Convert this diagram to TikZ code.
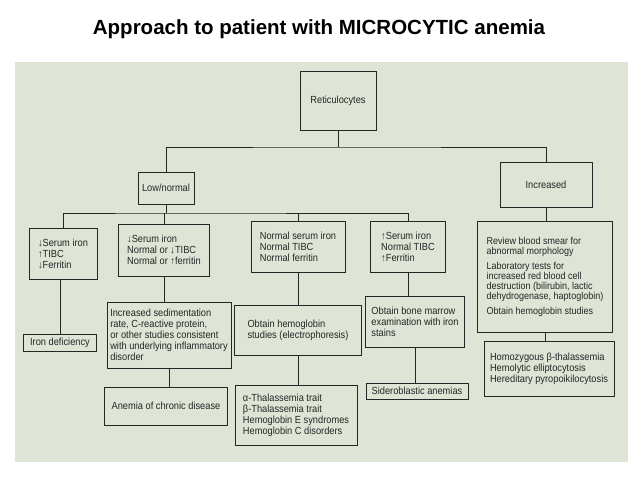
\documentclass[tikz,border=0pt]{standalone}
\usepackage{fontspec}
\setmainfont{Liberation Sans}
\newfontfamily\narrowf[FakeStretch=0.9]{Liberation Sans}
\begin{document}
\begin{tikzpicture}[x=1pt,y=-1pt,
  box/.style={draw=black!85,line width=0.9pt,align=left,inner sep=2pt,text=black!85,
    font=\narrowf\fontsize{10.3}{11}\selectfont},
  cbox/.style={box,align=center},
  link/.style={draw=black!85,line width=0.9pt}]
\useasboundingbox (0,0) rectangle (638,478);
\fill[white] (0,0) rectangle (638,478);
\fill[fill={rgb,255:red,222;green,228;blue,214}] (15,62) rectangle (628,462);
\node[font=\bfseries\fontsize{20.5}{24}\selectfont] (title) at (319,29) {Approach to patient with MICROCYTIC anemia};
% boxes
\node[cbox,minimum width=76,minimum height=59] (ret) at (338,101) {Reticulocytes};
\node[cbox,minimum width=56,minimum height=32] (low) at (166,188) {Low/normal};
\node[cbox,minimum width=92,minimum height=45] (inc) at (546,185) {Increased};
\node[box,minimum width=68,minimum height=51] (b1) at (63,254) {↓Serum iron\\↑TIBC\\↓Ferritin\hspace*{14pt}};
\node[box,minimum width=91,minimum height=52] (b2) at (164,250) {↓Serum iron\\Normal or ↓TIBC\\Normal or ↑ferritin};
\node[box,minimum width=94,minimum height=51] (b3) at (298,247) {Normal serum iron\\Normal TIBC\\Normal ferritin};
\node[box,minimum width=75,minimum height=51] (b4) at (408,247) {↑Serum iron\\Normal TIBC\\↑Ferritin};
\node[box,minimum width=135,minimum height=111,font=\narrowf\fontsize{10}{10}\selectfont] (b5) at (545,277) {Review blood smear for\\abnormal morphology\\[5pt]Laboratory tests for\\increased red blood cell\\destruction (bilirubin, lactic\\dehydrogenase, haptoglobin)\\[5pt]Obtain hemoglobin studies};
\node[box,minimum width=73,minimum height=17] (c1) at (60,343) {Iron deficiency};
\node[box,minimum width=124,minimum height=66] (c2) at (169,335) {Increased sedimentation\\rate, C-reactive protein,\\or other studies consistent\\with underlying inflammatory\\disorder};
\node[box,minimum width=127,minimum height=50] (c3) at (298,330) {Obtain hemoglobin\\studies (electrophoresis)};
\node[box,minimum width=99,minimum height=51] (c4) at (415,322) {Obtain bone marrow\\examination with iron\\stains};
\node[box,minimum width=130,minimum height=55] (c5) at (549,369) {Homozygous β-thalassemia\\Hemolytic elliptocytosis\\Hereditary pyropoikilocytosis};
\node[box,minimum width=123,minimum height=38] (d2) at (166,406) {Anemia of chronic disease};
\node[box,minimum width=122,minimum height=60] (d3) at (296,415) {α-Thalassemia trait\\β-Thalassemia trait\\Hemoglobin E syndromes\\Hemoglobin C disorders};
\node[box,minimum width=102,minimum height=16] (d4) at (417,391) {Sideroblastic anemias};
% connectors
\coordinate (j1) at (338,147);
\coordinate (j2) at (166,213);
\draw[link] (ret.south) -- (j1);
\draw[link] (low.north) |- (j1) -| (inc.north);
\draw[link] (low.south) -- (j2);
\draw[link] (b1.north) |- (j2) -| (b4.north);
\draw[link] (b2.north) -- (b2.north|-j2);
\draw[link] (b3.north) -- (b3.north|-j2);
\draw[link] (inc.south) -- (inc.south|-b5.north);
\draw[link] (c1.north) -- (c1.north|-b1.south);
\draw[link] (b2.south) -- (b2.south|-c2.north);
\draw[link] (b3.south) -- (b3.south|-c3.north);
\draw[link] (b4.south) -- (b4.south|-c4.north);
\draw[link] (b5.south) -- (b5.south|-c5.north);
\draw[link] (c2.south) -- (c2.south|-d2.north);
\draw[link] (c3.south) -- (c3.south|-d3.north);
\draw[link] (c4.south) -- (c4.south|-d4.north);
\end{tikzpicture}
\end{document}
